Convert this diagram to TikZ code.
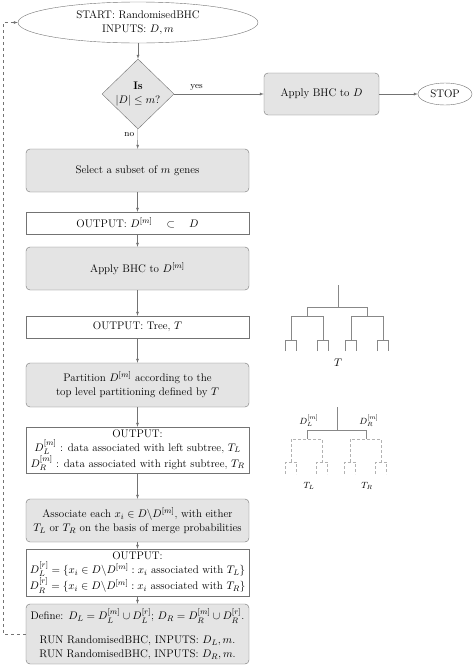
\documentclass[tikz,border=0pt]{standalone}
\usepackage{amsmath}
\usetikzlibrary{shapes.geometric,positioning}
\definecolor{boxgray}{RGB}{228,228,228}
\definecolor{linegray}{RGB}{115,115,115}

\begin{document}
\begin{tikzpicture}[x=1pt,y=-1pt,
	every node/.style={font=\fontsize{11}{14}\selectfont},
	process/.style={rectangle,rounded corners=4pt,draw=linegray,fill=boxgray,minimum width=223pt,align=center,inner sep=2pt},
	output/.style={rectangle,draw=linegray,fill=white,minimum width=223pt,align=center,inner sep=2pt},
	terminal/.style={ellipse,draw=linegray,fill=white,inner sep=0pt,align=center},
	decision/.style={diamond,draw=linegray,fill=boxgray,inner sep=0pt,minimum width=72pt,minimum height=70pt,align=center},
	flow/.style={draw=linegray,-latex},
	tree/.style={draw=linegray!85,line width=0.6pt},
	subtree/.style={draw=linegray!55,densely dashed,line width=0.6pt},
	treelabel/.style={font=\fontsize{9}{11}\selectfont}]
	
	\useasboundingbox (0,0) rectangle (474,667);
	
	% start and test
	\node[terminal,minimum width=240pt,minimum height=41pt] (start) at (138,22.5) {START: RandomisedBHC\\INPUTS: $D, m$};
	\node[decision] (test) at (138,94) {\textbf{Is}\\$|D| \leq m?$};
	\node[process,minimum width=115pt,minimum height=42pt] (bhcD) at (321.5,94) {Apply BHC to $D$};
	\node[terminal,minimum width=54pt,minimum height=22pt] (stop) at (445,94) {STOP};
	
	% main column
	\node[process,minimum height=43pt] (select) at (137.5,170.5) {Select a subset of $m$ genes};
	\node[output,minimum height=22pt] (outsub) at (137.5,223) {OUTPUT: $D^{[m]} \quad\subset\quad D$};
	\node[process,minimum height=43pt] (bhcDm) at (137.5,268.5) {Apply BHC to $D^{[m]}$};
	\node[output,minimum height=22pt] (outtree) at (137.5,327) {OUTPUT: Tree, $T$};
	\node[process,minimum height=44pt] (partition) at (137.5,385) {Partition $D^{[m]}$ according to the\\top level partitioning defined by $T$};
	\node[output,minimum height=46pt] (outsplit) at (137.5,450) {OUTPUT:\\$D_L^{[m]}$ : data associated with left subtree, $T_L$\\$D_R^{[m]}$ : data associated with right subtree, $T_R$};
	\node[process,minimum height=43pt] (associate) at (137.5,520.5) {Associate each $x_i \in D\backslash D^{[m]}$, with either\\$T_L$ or $T_R$ on the basis of merge probabilities};
	\node[output,minimum height=47pt] (outrest) at (137.5,572.5) {OUTPUT:\\$D_L^{[r]} = \{x_i \in D\backslash D^{[m]} : x_i \text{ associated with } T_L\}$\\$D_R^{[r]} = \{x_i \in D\backslash D^{[m]} : x_i \text{ associated with } T_R\}$};
	\node[process,minimum height=60pt] (define) at (137.5,634) {Define: $D_L = D_L^{[m]} \cup D_L^{[r]}$; $D_R = D_R^{[m]} \cup D_R^{[r]}$.\\[10pt]RUN RandomisedBHC, INPUTS: $D_L, m$.\\RUN RandomisedBHC, INPUTS: $D_R, m$.};
	
	%arrows
	\draw[flow] (start) -- (test);
	\draw[flow] (test) -- node[pos=0.25,above,font=\small] {yes} (bhcD);
	\draw[flow] (bhcD) -- (stop);
	\draw[flow] (test) -- node[pos=0.3,left,font=\small] {no} (select);
	\draw[flow] (select) -- (outsub);
	\draw[flow] (outsub) -- (bhcDm);
	\draw[flow] (bhcDm) -- (outtree);
	\draw[flow] (outtree) -- (partition);
	\draw[flow] (partition) -- (outsplit);
	\draw[flow] (outsplit) -- (associate);
	\draw[flow] (associate) -- (outrest);
	\draw[flow] (outrest) -- (define);
	
	%loop back
	\coordinate (loopcorner) at (3,634);
	\draw[flow,dashed] (define.west) -- (loopcorner) |- (start.west);
	
	%tree T
	\draw[tree] (338,285) -- (338,307);
	\draw[tree] (307,316) -- (307,307) -- (367,307) -- (367,316);
	\foreach \a/\b in {291/323,351/383}
		\draw[tree] (\a,340) -- (\a,316) -- (\b,316) -- (\b,340);
	\foreach \x in {291,323,351,383}
		\draw[tree] (\x-5.5,351) -- (\x-5.5,340) -- (\x+5.5,340) -- (\x+5.5,351);
	\node (treeT) at (338,363) {$T$};
	
	%split tree
	\draw[tree] (337,407) -- (337,430);
	\draw[tree] (307,439) -- (307,430) -- (366,430) -- (366,439);
	\foreach \a/\b in {291/322,350/381}
		\draw[subtree] (\a,462) -- (\a,439) -- (\b,439) -- (\b,462);
	\foreach \x in {291,322,350,381}
		\draw[subtree] (\x-5.5,474) -- (\x-5.5,462) -- (\x+5.5,462) -- (\x+5.5,474);
	\node[treelabel] (leftpart) at (309,421) {$D_L^{[m]}$};
	\node[treelabel] (rightpart) at (369,421) {$D_R^{[m]}$};
	\node[treelabel] (leftT) at (309,486) {$T_L$};
	\node[treelabel] (rightT) at (367,486) {$T_R$};
	
\end{tikzpicture}
\end{document}
